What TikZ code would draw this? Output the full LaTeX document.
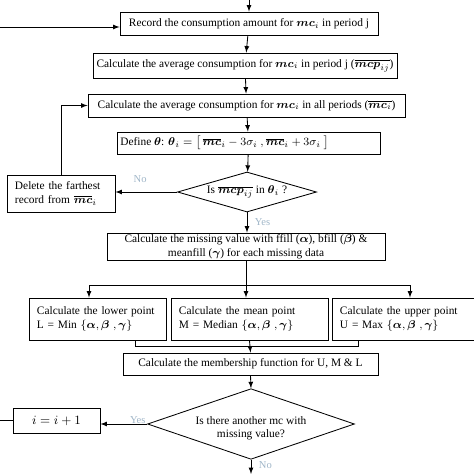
\documentclass[tikz,border=0pt]{standalone}
\usepackage{amsmath}
\usepackage{amssymb}
\usepackage{fontspec}
\setmainfont{Liberation Serif}
\usetikzlibrary{shapes.geometric}
\definecolor{lbl}{RGB}{160,182,200}

\begin{document}
\begin{tikzpicture}[x=0.025cm,y=-0.025cm,line width=0.6pt,
        font=\fontsize{8.1}{9.8}\selectfont,
        blk/.style={draw,inner sep=0pt,align=center},
        lft/.style={draw,inner xsep=0.2cm,inner ysep=0pt,align=left},
        dec/.style={draw,diamond,inner sep=0pt,align=center},
        lab/.style={text=lbl,font=\fontsize{7.5}{9}\selectfont}]
        \useasboundingbox (0,0) rectangle (474,474); % picture frame
        % main column
        \node[blk,minimum width=6.45cm,minimum height=0.575cm] (rec) at (249,23.5)
        {Record the consumption amount for $\boldsymbol{mc}_i$ in period j};
        \node[blk,minimum width=7.6cm,minimum height=0.625cm] (avg) at (245,65.5)
        {Calculate the average consumption for $\boldsymbol{mc}_i$ in period j ($\overline{\boldsymbol{mcp}_{ij}}$)};
        \node[blk,minimum width=7.925cm,minimum height=0.575cm] (all) at (246.5,105.5)
        {Calculate the average consumption for $\boldsymbol{mc}_i$ in all periods ($\overline{\boldsymbol{mc}_i}$)};
        \node[blk,minimum width=6.575cm,minimum height=0.55cm] (def) at (248.5,143)
        {\hspace{-1.2cm}Define $\boldsymbol{\theta}$: $\boldsymbol{\theta}_i=\bigl[\,\overline{\boldsymbol{mc}}_i-3\sigma_i\ ,\overline{\boldsymbol{mc}}_i+3\sigma_i\ \bigr]$};
        \node[dec,aspect=3.5,minimum width=3.475cm,minimum height=1cm] (chk) at (247,192)
        {Is $\overline{\boldsymbol{mcp}_{ij}}$ in $\boldsymbol{\theta}_i$ ?};
        \node[lft,text width=2.3cm,minimum height=0.925cm] (del) at (61,193.5)
        {Delete the farthest\\record from $\overline{\boldsymbol{mc}}_i$};
        \node[blk,minimum width=6.95cm,minimum height=0.675cm] (miss) at (246,246.5)
        {Calculate the missing value with ffill ($\boldsymbol{\alpha}$), bfill ($\boldsymbol{\beta}$) \&\\
        meanfill ($\boldsymbol{\gamma}$) for each missing data};
        % three points
        \node[lft,text width=3.025cm,minimum height=1.05cm] (low) at (97.5,319)
        {Calculate the lower point\\L = Min $\{\boldsymbol{\alpha},\boldsymbol{\beta}\ ,\boldsymbol{\gamma}\}$};
        \node[lft,text width=3.525cm,minimum height=1.05cm] (mean) at (249.5,319)
        {Calculate the mean point\\M = Median $\{\boldsymbol{\alpha},\boldsymbol{\beta}\ ,\boldsymbol{\gamma}\}$};
        \node[lft,text width=3.175cm,minimum height=1.05cm] (up) at (403.5,319)
        {Calculate the upper point\\U = Max $\{\boldsymbol{\alpha},\boldsymbol{\beta}\ ,\boldsymbol{\gamma}\}$};
        \node[blk,minimum width=6.375cm,minimum height=0.55cm] (mem) at (250.5,364)
        {Calculate the membership function for U, M \& L};
        \node[dec,aspect=2.93,minimum width=4.475cm,minimum height=1.525cm] (more) at (251,424)
        {\\[2pt]Is there another mc with\\missing value?};
        \node[blk,minimum width=2.175cm,minimum height=0.625cm,font=\fontsize{9.5}{11}\selectfont] (inc) at (56.5,420.5)
        {$i=i+1$};
        % free ends
        \coordinate (top) at (249,0);
        \coordinate (in) at (0,27);
        \coordinate (out) at (0,423);
        \coordinate (bot) at (251,474);
        \coordinate (bl) at (89,285); \coordinate (br) at (410,285);
        \coordinate (jl) at (135,346); \coordinate (jr) at (358,346);
        % arrows
        \draw[-latex] (top) -- (rec.north);
        \draw[-latex] (in) -- (in -| rec.west);
        \draw[-latex] (rec) -- (avg);
        \draw[-latex] (avg) -- (all);
        \draw[-latex] (all) -- (def);
        \draw[-latex] (def) -- (chk);
        \draw[-latex] (chk.west) -- (chk.west -| del.east) node[lab,pos=0.6,above=3pt] {No};
        \draw[-latex] (del.north) |- (all.west);
        \draw[-latex] (chk.south) -- (chk.south |- miss.north) node[lab,pos=0.5,right=2pt] {Yes};
        \draw[-latex] (miss.south) -- (miss.south |- mean.north);
        \draw (bl) -- (br); % branch line
        \draw[-latex] (bl) -- (bl |- low.north);
        \draw[-latex] (br) -- (br |- up.north);
        \draw (jl |- low.south) -- (jl) -- (jr) -- (jr |- up.south); % join
        \draw[-latex] (mean.south) -- (mem.north);
        \draw[-latex] (mem.south) -- (more.north);
        \draw[-latex] (more.west) -- (more.west -| inc.east) node[lab,pos=0.2,above=-3pt] {Yes};
        \draw (inc.west) -- (inc.west -| out);
        \draw[-latex] (more.south) -- (bot) node[lab,pos=0.35,right=2pt] {No};
\end{tikzpicture}
\end{document}
